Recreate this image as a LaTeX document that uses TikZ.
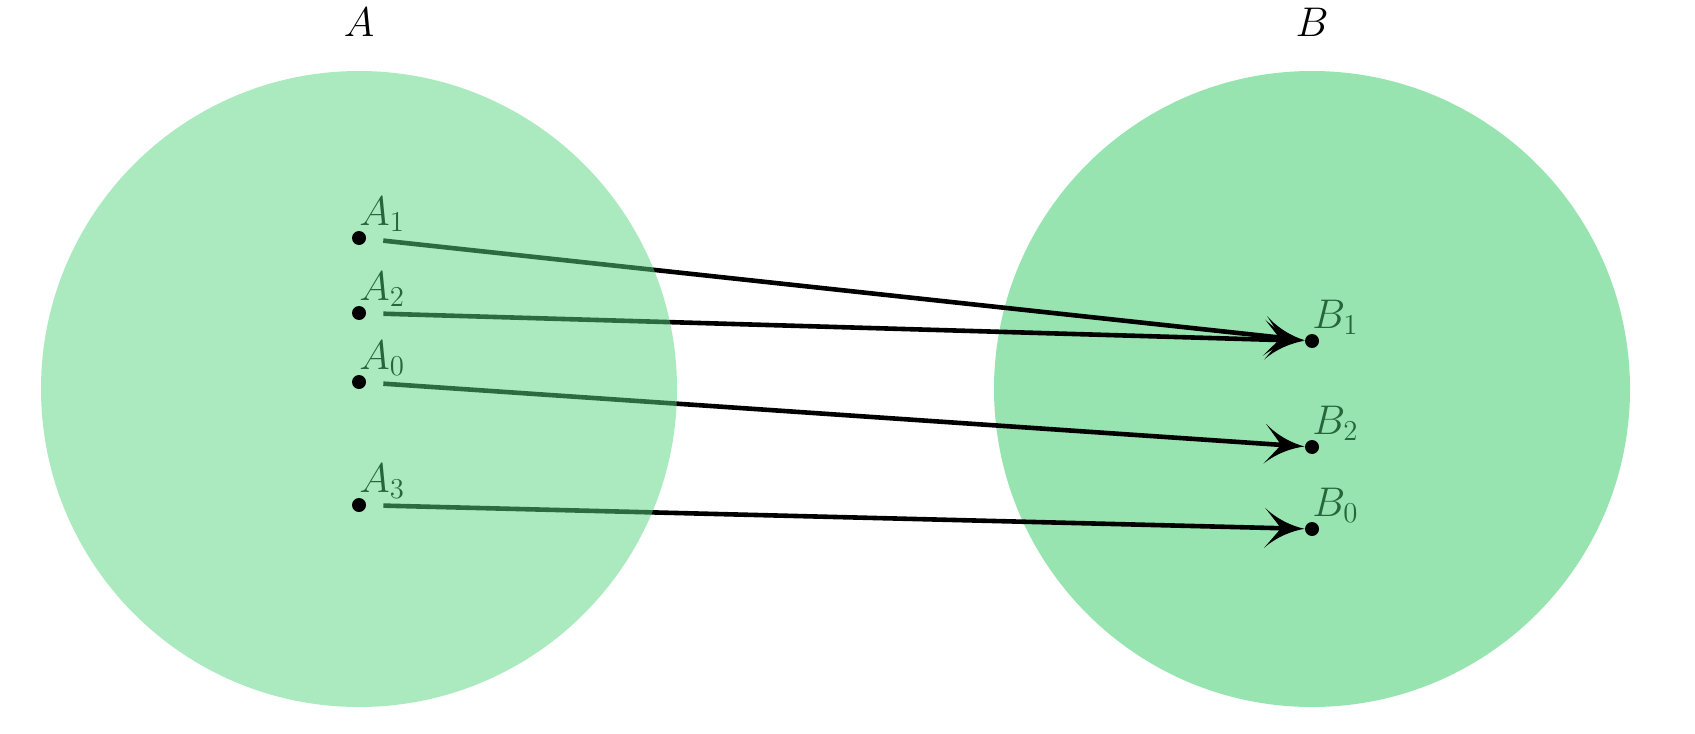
\documentclass[tikz,border=0pt]{standalone}
\usetikzlibrary{arrows.meta}
\pgfdeclarelayer{background}
\pgfdeclarelayer{middle}
\pgfsetlayers{background,middle,main}
\pgfdeclarearrow{
  name = CStealth,
  setup code = {
    \pgfarrowssettipend{0pt}
    \pgfarrowssetbackend{-20pt}
    \pgfarrowssetlineend{-11pt}
    \pgfarrowssetvisualbackend{-12pt}
    \pgfarrowshullpoint{0pt}{0pt}
    \pgfarrowshullpoint{-20pt}{10pt}
    \pgfarrowshullpoint{-20pt}{-10pt}
  },
  drawing code = {
    \pgfpathmoveto{\pgfpoint{0pt}{0pt}}
    \pgfpathcurveto{\pgfpoint{-6.5pt}{1.2pt}}{\pgfpoint{-14pt}{4.5pt}}{\pgfpoint{-20pt}{10pt}}
    \pgfpathcurveto{\pgfpoint{-16pt}{5pt}}{\pgfpoint{-13pt}{1.7pt}}{\pgfpoint{-12pt}{0pt}}
    \pgfpathcurveto{\pgfpoint{-13pt}{-1.7pt}}{\pgfpoint{-16pt}{-5pt}}{\pgfpoint{-20pt}{-10pt}}
    \pgfpathcurveto{\pgfpoint{-14pt}{-4.5pt}}{\pgfpoint{-6.5pt}{-1.2pt}}{\pgfpoint{0pt}{0pt}}
    \pgfpathclose
    \pgfusepathqfill
  }
}
\definecolor{setA}{HTML}{56D67E}
\definecolor{setB}{HTML}{98E4B0}
\definecolor{lbl}{HTML}{25663C}
\tikzset{
  pt/.style={circle, fill=black, inner sep=0pt, minimum size=7pt},
  lab/.style={anchor=base west, inner sep=0pt, text=lbl, font=\fontsize{20.5}{24}\selectfont},
  ttl/.style={anchor=base, inner sep=0pt, font=\fontsize{20.5}{24}\selectfont},
  mapar/.style={line width=2.3pt, -{CStealth}, shorten <=8.5pt}
}
\begin{document}
\begin{tikzpicture}[x=0.5pt, y=-0.5pt]
\useasboundingbox (0,0) rectangle (1695,733);
% titles
\node[ttl] (tA) at (359,37) {$A$};
\node[ttl] (tB) at (1312,37) {$B$};
% points
\node[pt] (a1) at (359,238) {};
\node[pt] (a2) at (359,313) {};
\node[pt] (a0) at (359,382) {};
\node[pt] (a3) at (359,505) {};
\node[pt] (b1) at (1312,341) {};
\node[pt] (b2) at (1312,447) {};
\node[pt] (b0) at (1312,529) {};
% labels
\node[lab] (la1) at ([yshift=6.25pt]a1.center) {$A_1$};
\node[lab] (la2) at ([yshift=6.25pt]a2.center) {$A_2$};
\node[lab] (la0) at ([yshift=6.25pt]a0.center) {$A_0$};
\node[lab] (la3) at ([yshift=6.25pt]a3.center) {$A_3$};
\node[lab] (lb1) at ([yshift=6.5pt]b1.center) {$B_1$};
\node[lab] (lb2) at ([yshift=6.5pt]b2.center) {$B_2$};
\node[lab] (lb0) at ([yshift=6.5pt]b0.center) {$B_0$};
\begin{pgfonlayer}{background}
  \fill[setB] (1312,389) circle [radius=318];
  \draw[mapar] (a1) -- (b1);
  \draw[mapar] (a2) -- (b1);
  \draw[mapar] (a0) -- (b2);
  \draw[mapar] (a3) -- (b0);
\end{pgfonlayer}
\begin{pgfonlayer}{middle}
  \fill[setA, fill opacity=0.5] (359,389) circle [radius=318];
\end{pgfonlayer}
\end{tikzpicture}
\end{document}
